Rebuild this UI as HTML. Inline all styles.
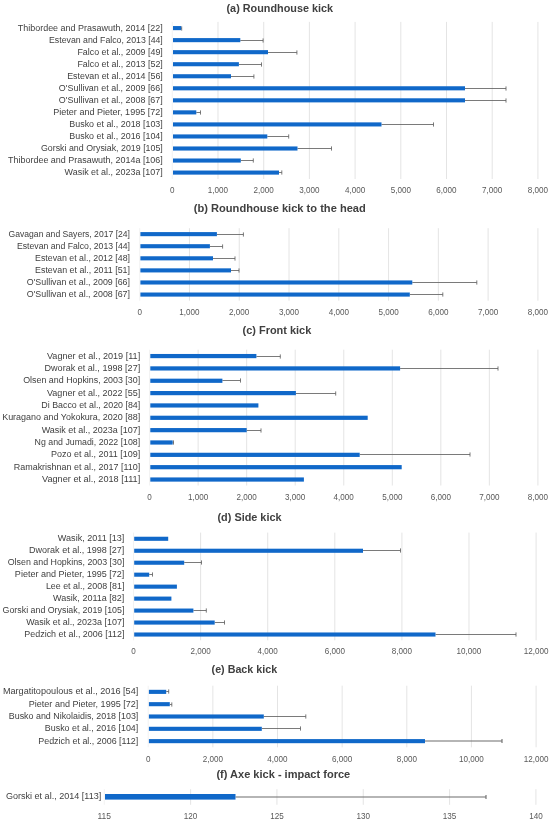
<!DOCTYPE html>
<html lang="en"><head><meta charset="utf-8"><title>Kick impact force charts</title>
<style>
html,body{margin:0;padding:0;background:#fff;}
body{width:550px;height:822px;overflow:hidden;font-family:"Liberation Sans",Arial,sans-serif;}
svg{display:block;}
</style></head><body>
<svg width="550" height="822" viewBox="0 0 550 822" font-family="'Liberation Sans', Arial, sans-serif">
<rect width="550" height="822" fill="#fff"/>
<g>
<line x1="172.30" y1="21.9" x2="172.30" y2="179.0" stroke="#ececec" stroke-width="0.7"/>
<text x="170.04" y="192.8" font-size="8.4" fill="#595959" textLength="4.51" lengthAdjust="spacingAndGlyphs">0</text>
<line x1="218.00" y1="21.9" x2="218.00" y2="179.0" stroke="#d9d9d9" stroke-width="0.7"/>
<text x="207.87" y="192.8" font-size="8.4" fill="#595959" textLength="20.26" lengthAdjust="spacingAndGlyphs">1,000</text>
<line x1="263.70" y1="21.9" x2="263.70" y2="179.0" stroke="#d9d9d9" stroke-width="0.7"/>
<text x="253.57" y="192.8" font-size="8.4" fill="#595959" textLength="20.26" lengthAdjust="spacingAndGlyphs">2,000</text>
<line x1="309.40" y1="21.9" x2="309.40" y2="179.0" stroke="#d9d9d9" stroke-width="0.7"/>
<text x="299.27" y="192.8" font-size="8.4" fill="#595959" textLength="20.26" lengthAdjust="spacingAndGlyphs">3,000</text>
<line x1="355.10" y1="21.9" x2="355.10" y2="179.0" stroke="#d9d9d9" stroke-width="0.7"/>
<text x="344.97" y="192.8" font-size="8.4" fill="#595959" textLength="20.26" lengthAdjust="spacingAndGlyphs">4,000</text>
<line x1="400.80" y1="21.9" x2="400.80" y2="179.0" stroke="#d9d9d9" stroke-width="0.7"/>
<text x="390.67" y="192.8" font-size="8.4" fill="#595959" textLength="20.26" lengthAdjust="spacingAndGlyphs">5,000</text>
<line x1="446.50" y1="21.9" x2="446.50" y2="179.0" stroke="#d9d9d9" stroke-width="0.7"/>
<text x="436.37" y="192.8" font-size="8.4" fill="#595959" textLength="20.26" lengthAdjust="spacingAndGlyphs">6,000</text>
<line x1="492.20" y1="21.9" x2="492.20" y2="179.0" stroke="#d9d9d9" stroke-width="0.7"/>
<text x="482.07" y="192.8" font-size="8.4" fill="#595959" textLength="20.26" lengthAdjust="spacingAndGlyphs">7,000</text>
<line x1="537.90" y1="21.9" x2="537.90" y2="179.0" stroke="#d9d9d9" stroke-width="0.7"/>
<text x="527.77" y="192.8" font-size="8.4" fill="#595959" textLength="20.26" lengthAdjust="spacingAndGlyphs">8,000</text>
<text x="226.5" y="12.3" font-size="11.3" font-weight="bold" fill="#404040" textLength="106.6" lengthAdjust="spacingAndGlyphs">(a) Roundhouse kick</text>
<path d="M181.20 28.50H181.70M181.70 26.40V30.60" stroke="#626262" stroke-width="0.85" fill="none"/>
<rect x="173.00" y="26.05" width="8.20" height="4.1" fill="#1068c9"/>
<text x="17.74" y="31" font-size="8.85" fill="#3f3f3f" textLength="145.06" lengthAdjust="spacingAndGlyphs">Thibordee and Prasawuth, 2014 [22]</text>
<path d="M240.30 40.50H263.10M263.10 38.40V42.60" stroke="#626262" stroke-width="0.85" fill="none"/>
<rect x="173.00" y="38.09" width="67.30" height="4.1" fill="#1068c9"/>
<text x="49.00" y="43" font-size="8.85" fill="#3f3f3f" textLength="113.80" lengthAdjust="spacingAndGlyphs">Estevan and Falco, 2013 [44]</text>
<path d="M268.00 52.50H296.90M296.90 50.40V54.60" stroke="#626262" stroke-width="0.85" fill="none"/>
<rect x="173.00" y="50.13" width="95.00" height="4.1" fill="#1068c9"/>
<text x="77.43" y="55" font-size="8.85" fill="#3f3f3f" textLength="85.37" lengthAdjust="spacingAndGlyphs">Falco et al., 2009 [49]</text>
<path d="M238.90 64.50H261.50M261.50 62.40V66.60" stroke="#626262" stroke-width="0.85" fill="none"/>
<rect x="173.00" y="62.17" width="65.90" height="4.1" fill="#1068c9"/>
<text x="77.43" y="67" font-size="8.85" fill="#3f3f3f" textLength="85.37" lengthAdjust="spacingAndGlyphs">Falco et al., 2013 [52]</text>
<path d="M231.00 76.50H253.90M253.90 74.40V78.60" stroke="#626262" stroke-width="0.85" fill="none"/>
<rect x="173.00" y="74.21" width="58.00" height="4.1" fill="#1068c9"/>
<text x="67.16" y="79" font-size="8.85" fill="#3f3f3f" textLength="95.64" lengthAdjust="spacingAndGlyphs">Estevan et al., 2014 [56]</text>
<path d="M465.00 88.50H506.00M506.00 86.40V90.60" stroke="#626262" stroke-width="0.85" fill="none"/>
<rect x="173.00" y="86.25" width="292.00" height="4.1" fill="#1068c9"/>
<text x="58.89" y="91" font-size="8.85" fill="#3f3f3f" textLength="103.91" lengthAdjust="spacingAndGlyphs">O'Sullivan et al., 2009 [66]</text>
<path d="M465.00 100.50H506.00M506.00 98.40V102.60" stroke="#626262" stroke-width="0.85" fill="none"/>
<rect x="173.00" y="98.29" width="292.00" height="4.1" fill="#1068c9"/>
<text x="58.89" y="103" font-size="8.85" fill="#3f3f3f" textLength="103.91" lengthAdjust="spacingAndGlyphs">O'Sullivan et al., 2008 [67]</text>
<path d="M196.30 112.50H200.50M200.50 110.40V114.60" stroke="#626262" stroke-width="0.85" fill="none"/>
<rect x="173.00" y="110.33" width="23.30" height="4.1" fill="#1068c9"/>
<text x="53.27" y="115" font-size="8.85" fill="#3f3f3f" textLength="109.53" lengthAdjust="spacingAndGlyphs">Pieter and Pieter, 1995 [72]</text>
<path d="M381.50 124.50H433.50M433.50 122.40V126.60" stroke="#626262" stroke-width="0.85" fill="none"/>
<rect x="173.00" y="122.37" width="208.50" height="4.1" fill="#1068c9"/>
<text x="69.30" y="127" font-size="8.85" fill="#3f3f3f" textLength="93.50" lengthAdjust="spacingAndGlyphs">Busko et al., 2018 [103]</text>
<path d="M267.30 136.50H288.70M288.70 134.40V138.60" stroke="#626262" stroke-width="0.85" fill="none"/>
<rect x="173.00" y="134.41" width="94.30" height="4.1" fill="#1068c9"/>
<text x="69.30" y="139" font-size="8.85" fill="#3f3f3f" textLength="93.50" lengthAdjust="spacingAndGlyphs">Busko et al., 2016 [104]</text>
<path d="M297.50 148.50H331.50M331.50 146.40V150.60" stroke="#626262" stroke-width="0.85" fill="none"/>
<rect x="173.00" y="146.45" width="124.50" height="4.1" fill="#1068c9"/>
<text x="40.97" y="151" font-size="8.85" fill="#3f3f3f" textLength="121.83" lengthAdjust="spacingAndGlyphs">Gorski and Orysiak, 2019 [105]</text>
<path d="M240.80 160.50H253.30M253.30 158.40V162.60" stroke="#626262" stroke-width="0.85" fill="none"/>
<rect x="173.00" y="158.49" width="67.80" height="4.1" fill="#1068c9"/>
<text x="8.09" y="163" font-size="8.85" fill="#3f3f3f" textLength="154.71" lengthAdjust="spacingAndGlyphs">Thibordee and Prasawuth, 2014a [106]</text>
<path d="M279.00 172.50H281.80M281.80 170.40V174.60" stroke="#626262" stroke-width="0.85" fill="none"/>
<rect x="173.00" y="170.53" width="106.00" height="4.1" fill="#1068c9"/>
<text x="64.59" y="175" font-size="8.85" fill="#3f3f3f" textLength="98.21" lengthAdjust="spacingAndGlyphs">Wasik et al., 2023a [107]</text>
</g>
<g>
<line x1="139.70" y1="228.2" x2="139.70" y2="300.7" stroke="#ececec" stroke-width="0.7"/>
<text x="137.44" y="315.0" font-size="8.4" fill="#595959" textLength="4.51" lengthAdjust="spacingAndGlyphs">0</text>
<line x1="189.47" y1="228.2" x2="189.47" y2="300.7" stroke="#d9d9d9" stroke-width="0.7"/>
<text x="179.34" y="315.0" font-size="8.4" fill="#595959" textLength="20.26" lengthAdjust="spacingAndGlyphs">1,000</text>
<line x1="239.25" y1="228.2" x2="239.25" y2="300.7" stroke="#d9d9d9" stroke-width="0.7"/>
<text x="229.12" y="315.0" font-size="8.4" fill="#595959" textLength="20.26" lengthAdjust="spacingAndGlyphs">2,000</text>
<line x1="289.02" y1="228.2" x2="289.02" y2="300.7" stroke="#d9d9d9" stroke-width="0.7"/>
<text x="278.89" y="315.0" font-size="8.4" fill="#595959" textLength="20.26" lengthAdjust="spacingAndGlyphs">3,000</text>
<line x1="338.80" y1="228.2" x2="338.80" y2="300.7" stroke="#d9d9d9" stroke-width="0.7"/>
<text x="328.67" y="315.0" font-size="8.4" fill="#595959" textLength="20.26" lengthAdjust="spacingAndGlyphs">4,000</text>
<line x1="388.57" y1="228.2" x2="388.57" y2="300.7" stroke="#d9d9d9" stroke-width="0.7"/>
<text x="378.44" y="315.0" font-size="8.4" fill="#595959" textLength="20.26" lengthAdjust="spacingAndGlyphs">5,000</text>
<line x1="438.35" y1="228.2" x2="438.35" y2="300.7" stroke="#d9d9d9" stroke-width="0.7"/>
<text x="428.22" y="315.0" font-size="8.4" fill="#595959" textLength="20.26" lengthAdjust="spacingAndGlyphs">6,000</text>
<line x1="488.12" y1="228.2" x2="488.12" y2="300.7" stroke="#d9d9d9" stroke-width="0.7"/>
<text x="477.99" y="315.0" font-size="8.4" fill="#595959" textLength="20.26" lengthAdjust="spacingAndGlyphs">7,000</text>
<line x1="537.90" y1="228.2" x2="537.90" y2="300.7" stroke="#d9d9d9" stroke-width="0.7"/>
<text x="527.77" y="315.0" font-size="8.4" fill="#595959" textLength="20.26" lengthAdjust="spacingAndGlyphs">8,000</text>
<text x="193.8" y="212.4" font-size="11.3" font-weight="bold" fill="#404040" textLength="172" lengthAdjust="spacingAndGlyphs">(b) Roundhouse kick to the head</text>
<path d="M216.90 234.50H243.40M243.40 232.40V236.60" stroke="#626262" stroke-width="0.85" fill="none"/>
<rect x="140.40" y="232.09" width="76.50" height="4.1" fill="#1068c9"/>
<text x="8.50" y="237" font-size="8.85" fill="#3f3f3f" textLength="121.50" lengthAdjust="spacingAndGlyphs">Gavagan and Sayers, 2017 [24]</text>
<path d="M209.90 246.50H222.60M222.60 244.40V248.60" stroke="#626262" stroke-width="0.85" fill="none"/>
<rect x="140.40" y="244.17" width="69.50" height="4.1" fill="#1068c9"/>
<text x="16.90" y="249" font-size="8.85" fill="#3f3f3f" textLength="113.10" lengthAdjust="spacingAndGlyphs">Estevan and Falco, 2013 [44]</text>
<path d="M213.00 258.50H235.00M235.00 256.40V260.60" stroke="#626262" stroke-width="0.85" fill="none"/>
<rect x="140.40" y="256.26" width="72.60" height="4.1" fill="#1068c9"/>
<text x="35.06" y="261" font-size="8.85" fill="#3f3f3f" textLength="94.94" lengthAdjust="spacingAndGlyphs">Estevan et al., 2012 [48]</text>
<path d="M231.00 270.50H239.00M239.00 268.40V272.60" stroke="#626262" stroke-width="0.85" fill="none"/>
<rect x="140.40" y="268.34" width="90.60" height="4.1" fill="#1068c9"/>
<text x="35.06" y="273" font-size="8.85" fill="#3f3f3f" textLength="94.94" lengthAdjust="spacingAndGlyphs">Estevan et al., 2011 [51]</text>
<path d="M412.30 282.50H476.80M476.80 280.40V284.60" stroke="#626262" stroke-width="0.85" fill="none"/>
<rect x="140.40" y="280.43" width="271.90" height="4.1" fill="#1068c9"/>
<text x="26.79" y="285" font-size="8.85" fill="#3f3f3f" textLength="103.21" lengthAdjust="spacingAndGlyphs">O'Sullivan et al., 2009 [66]</text>
<path d="M409.80 294.50H442.80M442.80 292.40V296.60" stroke="#626262" stroke-width="0.85" fill="none"/>
<rect x="140.40" y="292.51" width="269.40" height="4.1" fill="#1068c9"/>
<text x="26.79" y="297" font-size="8.85" fill="#3f3f3f" textLength="103.21" lengthAdjust="spacingAndGlyphs">O'Sullivan et al., 2008 [67]</text>
</g>
<g>
<line x1="149.60" y1="349.7" x2="149.60" y2="485.5" stroke="#ececec" stroke-width="0.7"/>
<text x="147.34" y="499.6" font-size="8.4" fill="#595959" textLength="4.51" lengthAdjust="spacingAndGlyphs">0</text>
<line x1="198.14" y1="349.7" x2="198.14" y2="485.5" stroke="#d9d9d9" stroke-width="0.7"/>
<text x="188.01" y="499.6" font-size="8.4" fill="#595959" textLength="20.26" lengthAdjust="spacingAndGlyphs">1,000</text>
<line x1="246.67" y1="349.7" x2="246.67" y2="485.5" stroke="#d9d9d9" stroke-width="0.7"/>
<text x="236.54" y="499.6" font-size="8.4" fill="#595959" textLength="20.26" lengthAdjust="spacingAndGlyphs">2,000</text>
<line x1="295.21" y1="349.7" x2="295.21" y2="485.5" stroke="#d9d9d9" stroke-width="0.7"/>
<text x="285.08" y="499.6" font-size="8.4" fill="#595959" textLength="20.26" lengthAdjust="spacingAndGlyphs">3,000</text>
<line x1="343.75" y1="349.7" x2="343.75" y2="485.5" stroke="#d9d9d9" stroke-width="0.7"/>
<text x="333.62" y="499.6" font-size="8.4" fill="#595959" textLength="20.26" lengthAdjust="spacingAndGlyphs">4,000</text>
<line x1="392.29" y1="349.7" x2="392.29" y2="485.5" stroke="#d9d9d9" stroke-width="0.7"/>
<text x="382.16" y="499.6" font-size="8.4" fill="#595959" textLength="20.26" lengthAdjust="spacingAndGlyphs">5,000</text>
<line x1="440.82" y1="349.7" x2="440.82" y2="485.5" stroke="#d9d9d9" stroke-width="0.7"/>
<text x="430.69" y="499.6" font-size="8.4" fill="#595959" textLength="20.26" lengthAdjust="spacingAndGlyphs">6,000</text>
<line x1="489.36" y1="349.7" x2="489.36" y2="485.5" stroke="#d9d9d9" stroke-width="0.7"/>
<text x="479.23" y="499.6" font-size="8.4" fill="#595959" textLength="20.26" lengthAdjust="spacingAndGlyphs">7,000</text>
<line x1="537.90" y1="349.7" x2="537.90" y2="485.5" stroke="#d9d9d9" stroke-width="0.7"/>
<text x="527.77" y="499.6" font-size="8.4" fill="#595959" textLength="20.26" lengthAdjust="spacingAndGlyphs">8,000</text>
<text x="242.5" y="334.4" font-size="11.3" font-weight="bold" fill="#404040" textLength="68.8" lengthAdjust="spacingAndGlyphs">(c) Front kick</text>
<path d="M256.40 356.50H280.30M280.30 354.40V358.60" stroke="#626262" stroke-width="0.85" fill="none"/>
<rect x="150.30" y="353.97" width="106.10" height="4.2" fill="#1068c9"/>
<text x="46.99" y="359" font-size="8.85" fill="#3f3f3f" textLength="93.21" lengthAdjust="spacingAndGlyphs">Vagner et al., 2019 [11]</text>
<path d="M400.10 368.50H498.00M498.00 366.40V370.60" stroke="#626262" stroke-width="0.85" fill="none"/>
<rect x="150.30" y="366.32" width="249.80" height="4.2" fill="#1068c9"/>
<text x="44.53" y="371" font-size="8.85" fill="#3f3f3f" textLength="95.67" lengthAdjust="spacingAndGlyphs">Dworak et al., 1998 [27]</text>
<path d="M222.40 380.50H240.50M240.50 378.40V382.60" stroke="#626262" stroke-width="0.85" fill="none"/>
<rect x="150.30" y="378.66" width="72.10" height="4.2" fill="#1068c9"/>
<text x="23.20" y="383" font-size="8.85" fill="#3f3f3f" textLength="117.00" lengthAdjust="spacingAndGlyphs">Olsen and Hopkins, 2003 [30]</text>
<path d="M295.90 393.50H335.70M335.70 391.40V395.60" stroke="#626262" stroke-width="0.85" fill="none"/>
<rect x="150.30" y="391.01" width="145.60" height="4.2" fill="#1068c9"/>
<text x="46.99" y="396" font-size="8.85" fill="#3f3f3f" textLength="93.21" lengthAdjust="spacingAndGlyphs">Vagner et al., 2022 [55]</text>
<rect x="150.30" y="403.35" width="108.10" height="4.2" fill="#1068c9"/>
<text x="41.33" y="408" font-size="8.85" fill="#3f3f3f" textLength="98.87" lengthAdjust="spacingAndGlyphs">Di Bacco et al., 2020 [84]</text>
<rect x="150.30" y="415.70" width="217.40" height="4.2" fill="#1068c9"/>
<text x="2.17" y="420" font-size="8.85" fill="#3f3f3f" textLength="138.03" lengthAdjust="spacingAndGlyphs">Kuragano and Yokokura, 2020 [88]</text>
<path d="M246.70 430.50H261.00M261.00 428.40V432.60" stroke="#626262" stroke-width="0.85" fill="none"/>
<rect x="150.30" y="428.05" width="96.40" height="4.2" fill="#1068c9"/>
<text x="41.69" y="433" font-size="8.85" fill="#3f3f3f" textLength="98.51" lengthAdjust="spacingAndGlyphs">Wasik et al., 2023a [107]</text>
<path d="M172.70 442.50H173.50M173.50 440.40V444.60" stroke="#626262" stroke-width="0.85" fill="none"/>
<rect x="150.30" y="440.39" width="22.40" height="4.2" fill="#1068c9"/>
<text x="34.60" y="445" font-size="8.85" fill="#3f3f3f" textLength="105.60" lengthAdjust="spacingAndGlyphs">Ng and Jumadi, 2022 [108]</text>
<path d="M359.70 454.50H470.00M470.00 452.40V456.60" stroke="#626262" stroke-width="0.85" fill="none"/>
<rect x="150.30" y="452.74" width="209.40" height="4.2" fill="#1068c9"/>
<text x="51.06" y="457" font-size="8.85" fill="#3f3f3f" textLength="89.14" lengthAdjust="spacingAndGlyphs">Pozo et al., 2011 [109]</text>
<rect x="150.30" y="465.08" width="251.40" height="4.2" fill="#1068c9"/>
<text x="13.73" y="470" font-size="8.85" fill="#3f3f3f" textLength="126.47" lengthAdjust="spacingAndGlyphs">Ramakrishnan et al., 2017 [110]</text>
<rect x="150.30" y="477.43" width="153.60" height="4.2" fill="#1068c9"/>
<text x="42.03" y="482" font-size="8.85" fill="#3f3f3f" textLength="98.17" lengthAdjust="spacingAndGlyphs">Vagner et al., 2018 [111]</text>
</g>
<g>
<line x1="133.50" y1="532.6" x2="133.50" y2="640.3" stroke="#ececec" stroke-width="0.7"/>
<text x="131.24" y="654.4" font-size="8.4" fill="#595959" textLength="4.51" lengthAdjust="spacingAndGlyphs">0</text>
<line x1="200.60" y1="532.6" x2="200.60" y2="640.3" stroke="#d9d9d9" stroke-width="0.7"/>
<text x="190.47" y="654.4" font-size="8.4" fill="#595959" textLength="20.26" lengthAdjust="spacingAndGlyphs">2,000</text>
<line x1="267.70" y1="532.6" x2="267.70" y2="640.3" stroke="#d9d9d9" stroke-width="0.7"/>
<text x="257.57" y="654.4" font-size="8.4" fill="#595959" textLength="20.26" lengthAdjust="spacingAndGlyphs">4,000</text>
<line x1="334.80" y1="532.6" x2="334.80" y2="640.3" stroke="#d9d9d9" stroke-width="0.7"/>
<text x="324.67" y="654.4" font-size="8.4" fill="#595959" textLength="20.26" lengthAdjust="spacingAndGlyphs">6,000</text>
<line x1="401.90" y1="532.6" x2="401.90" y2="640.3" stroke="#d9d9d9" stroke-width="0.7"/>
<text x="391.77" y="654.4" font-size="8.4" fill="#595959" textLength="20.26" lengthAdjust="spacingAndGlyphs">8,000</text>
<line x1="469.00" y1="532.6" x2="469.00" y2="640.3" stroke="#d9d9d9" stroke-width="0.7"/>
<text x="456.61" y="654.4" font-size="8.4" fill="#595959" textLength="24.77" lengthAdjust="spacingAndGlyphs">10,000</text>
<line x1="536.10" y1="532.6" x2="536.10" y2="640.3" stroke="#d9d9d9" stroke-width="0.7"/>
<text x="523.71" y="654.4" font-size="8.4" fill="#595959" textLength="24.77" lengthAdjust="spacingAndGlyphs">12,000</text>
<text x="217.5" y="520.8" font-size="11.3" font-weight="bold" fill="#404040" textLength="64" lengthAdjust="spacingAndGlyphs">(d) Side kick</text>
<rect x="134.20" y="536.73" width="34.00" height="4.1" fill="#1068c9"/>
<text x="57.83" y="541" font-size="8.85" fill="#3f3f3f" textLength="66.57" lengthAdjust="spacingAndGlyphs">Wasik, 2011 [13]</text>
<path d="M363.00 550.50H400.50M400.50 548.40V552.60" stroke="#626262" stroke-width="0.85" fill="none"/>
<rect x="134.20" y="548.70" width="228.80" height="4.1" fill="#1068c9"/>
<text x="29.03" y="553" font-size="8.85" fill="#3f3f3f" textLength="95.37" lengthAdjust="spacingAndGlyphs">Dworak et al., 1998 [27]</text>
<path d="M184.20 562.50H201.50M201.50 560.40V564.60" stroke="#626262" stroke-width="0.85" fill="none"/>
<rect x="134.20" y="560.67" width="50.00" height="4.1" fill="#1068c9"/>
<text x="7.70" y="565" font-size="8.85" fill="#3f3f3f" textLength="116.70" lengthAdjust="spacingAndGlyphs">Olsen and Hopkins, 2003 [30]</text>
<path d="M149.20 574.50H152.50M152.50 572.40V576.60" stroke="#626262" stroke-width="0.85" fill="none"/>
<rect x="134.20" y="572.63" width="15.00" height="4.1" fill="#1068c9"/>
<text x="14.87" y="577" font-size="8.85" fill="#3f3f3f" textLength="109.53" lengthAdjust="spacingAndGlyphs">Pieter and Pieter, 1995 [72]</text>
<rect x="134.20" y="584.60" width="42.70" height="4.1" fill="#1068c9"/>
<text x="45.91" y="589" font-size="8.85" fill="#3f3f3f" textLength="78.49" lengthAdjust="spacingAndGlyphs">Lee et al., 2008 [81]</text>
<rect x="134.20" y="596.57" width="37.20" height="4.1" fill="#1068c9"/>
<text x="53.14" y="601" font-size="8.85" fill="#3f3f3f" textLength="71.26" lengthAdjust="spacingAndGlyphs">Wasik, 2011a [82]</text>
<path d="M193.40 610.50H206.30M206.30 608.40V612.60" stroke="#626262" stroke-width="0.85" fill="none"/>
<rect x="134.20" y="608.53" width="59.20" height="4.1" fill="#1068c9"/>
<text x="2.57" y="613" font-size="8.85" fill="#3f3f3f" textLength="121.83" lengthAdjust="spacingAndGlyphs">Gorski and Orysiak, 2019 [105]</text>
<path d="M214.70 622.50H224.50M224.50 620.40V624.60" stroke="#626262" stroke-width="0.85" fill="none"/>
<rect x="134.20" y="620.50" width="80.50" height="4.1" fill="#1068c9"/>
<text x="26.19" y="625" font-size="8.85" fill="#3f3f3f" textLength="98.21" lengthAdjust="spacingAndGlyphs">Wasik et al., 2023a [107]</text>
<path d="M435.50 634.50H516.00M516.00 632.40V636.60" stroke="#626262" stroke-width="0.85" fill="none"/>
<rect x="134.20" y="632.47" width="301.30" height="4.1" fill="#1068c9"/>
<text x="24.34" y="637" font-size="8.85" fill="#3f3f3f" textLength="100.06" lengthAdjust="spacingAndGlyphs">Pedzich et al., 2006 [112]</text>
</g>
<g>
<line x1="148.20" y1="685.7" x2="148.20" y2="747.3" stroke="#ececec" stroke-width="0.7"/>
<text x="145.94" y="762" font-size="8.4" fill="#595959" textLength="4.51" lengthAdjust="spacingAndGlyphs">0</text>
<line x1="212.85" y1="685.7" x2="212.85" y2="747.3" stroke="#d9d9d9" stroke-width="0.7"/>
<text x="202.72" y="762" font-size="8.4" fill="#595959" textLength="20.26" lengthAdjust="spacingAndGlyphs">2,000</text>
<line x1="277.50" y1="685.7" x2="277.50" y2="747.3" stroke="#d9d9d9" stroke-width="0.7"/>
<text x="267.37" y="762" font-size="8.4" fill="#595959" textLength="20.26" lengthAdjust="spacingAndGlyphs">4,000</text>
<line x1="342.15" y1="685.7" x2="342.15" y2="747.3" stroke="#d9d9d9" stroke-width="0.7"/>
<text x="332.02" y="762" font-size="8.4" fill="#595959" textLength="20.26" lengthAdjust="spacingAndGlyphs">6,000</text>
<line x1="406.80" y1="685.7" x2="406.80" y2="747.3" stroke="#d9d9d9" stroke-width="0.7"/>
<text x="396.67" y="762" font-size="8.4" fill="#595959" textLength="20.26" lengthAdjust="spacingAndGlyphs">8,000</text>
<line x1="471.45" y1="685.7" x2="471.45" y2="747.3" stroke="#d9d9d9" stroke-width="0.7"/>
<text x="459.06" y="762" font-size="8.4" fill="#595959" textLength="24.77" lengthAdjust="spacingAndGlyphs">10,000</text>
<line x1="536.10" y1="685.7" x2="536.10" y2="747.3" stroke="#d9d9d9" stroke-width="0.7"/>
<text x="523.71" y="762" font-size="8.4" fill="#595959" textLength="24.77" lengthAdjust="spacingAndGlyphs">12,000</text>
<text x="211.6" y="673.2" font-size="11.3" font-weight="bold" fill="#404040" textLength="65.5" lengthAdjust="spacingAndGlyphs">(e) Back kick</text>
<path d="M166.20 691.50H168.70M168.70 689.40V693.60" stroke="#626262" stroke-width="0.85" fill="none"/>
<rect x="148.90" y="689.81" width="17.30" height="4.1" fill="#1068c9"/>
<text x="2.90" y="694" font-size="8.85" fill="#3f3f3f" textLength="135.40" lengthAdjust="spacingAndGlyphs">Margatitopoulous et al., 2016 [54]</text>
<path d="M169.80 704.50H171.80M171.80 702.40V706.60" stroke="#626262" stroke-width="0.85" fill="none"/>
<rect x="148.90" y="702.13" width="20.90" height="4.1" fill="#1068c9"/>
<text x="28.77" y="707" font-size="8.85" fill="#3f3f3f" textLength="109.53" lengthAdjust="spacingAndGlyphs">Pieter and Pieter, 1995 [72]</text>
<path d="M263.80 716.50H305.80M305.80 714.40V718.60" stroke="#626262" stroke-width="0.85" fill="none"/>
<rect x="148.90" y="714.45" width="114.90" height="4.1" fill="#1068c9"/>
<text x="8.80" y="719" font-size="8.85" fill="#3f3f3f" textLength="129.50" lengthAdjust="spacingAndGlyphs">Busko and Nikolaidis, 2018 [103]</text>
<path d="M261.80 728.50H300.50M300.50 726.40V730.60" stroke="#626262" stroke-width="0.85" fill="none"/>
<rect x="148.90" y="726.77" width="112.90" height="4.1" fill="#1068c9"/>
<text x="44.80" y="731" font-size="8.85" fill="#3f3f3f" textLength="93.50" lengthAdjust="spacingAndGlyphs">Busko et al., 2016 [104]</text>
<path d="M425.00 741.00H502.00M502.00 738.90V743.10" stroke="#6c6c6c" stroke-width="1.1" fill="none"/>
<rect x="148.90" y="739.09" width="276.10" height="4.1" fill="#1068c9"/>
<text x="38.24" y="744" font-size="8.85" fill="#3f3f3f" textLength="100.06" lengthAdjust="spacingAndGlyphs">Pedzich et al., 2006 [112]</text>
</g>
<g>
<line x1="104.30" y1="789.2" x2="104.30" y2="804.8" stroke="#ececec" stroke-width="0.7"/>
<text x="97.53" y="818.9" font-size="8.4" fill="#595959" textLength="13.53" lengthAdjust="spacingAndGlyphs">115</text>
<line x1="190.62" y1="789.2" x2="190.62" y2="804.8" stroke="#d9d9d9" stroke-width="0.7"/>
<text x="183.85" y="818.9" font-size="8.4" fill="#595959" textLength="13.53" lengthAdjust="spacingAndGlyphs">120</text>
<line x1="276.94" y1="789.2" x2="276.94" y2="804.8" stroke="#d9d9d9" stroke-width="0.7"/>
<text x="270.17" y="818.9" font-size="8.4" fill="#595959" textLength="13.53" lengthAdjust="spacingAndGlyphs">125</text>
<line x1="363.26" y1="789.2" x2="363.26" y2="804.8" stroke="#d9d9d9" stroke-width="0.7"/>
<text x="356.49" y="818.9" font-size="8.4" fill="#595959" textLength="13.53" lengthAdjust="spacingAndGlyphs">130</text>
<line x1="449.58" y1="789.2" x2="449.58" y2="804.8" stroke="#d9d9d9" stroke-width="0.7"/>
<text x="442.81" y="818.9" font-size="8.4" fill="#595959" textLength="13.53" lengthAdjust="spacingAndGlyphs">135</text>
<line x1="535.90" y1="789.2" x2="535.90" y2="804.8" stroke="#d9d9d9" stroke-width="0.7"/>
<text x="529.13" y="818.9" font-size="8.4" fill="#595959" textLength="13.53" lengthAdjust="spacingAndGlyphs">140</text>
<text x="216.4" y="777.5" font-size="11.3" font-weight="bold" fill="#404040" textLength="133.8" lengthAdjust="spacingAndGlyphs">(f) Axe kick - impact force</text>
<path d="M235.50 797.00H486.00M486.00 794.90V799.10" stroke="#6c6c6c" stroke-width="1.1" fill="none"/>
<rect x="105.00" y="794.00" width="130.50" height="5.6" fill="#1068c9"/>
<text x="5.93" y="799" font-size="8.85" fill="#3f3f3f" textLength="95.37" lengthAdjust="spacingAndGlyphs">Gorski et al., 2014 [113]</text>
</g>
</svg>
</body></html>
